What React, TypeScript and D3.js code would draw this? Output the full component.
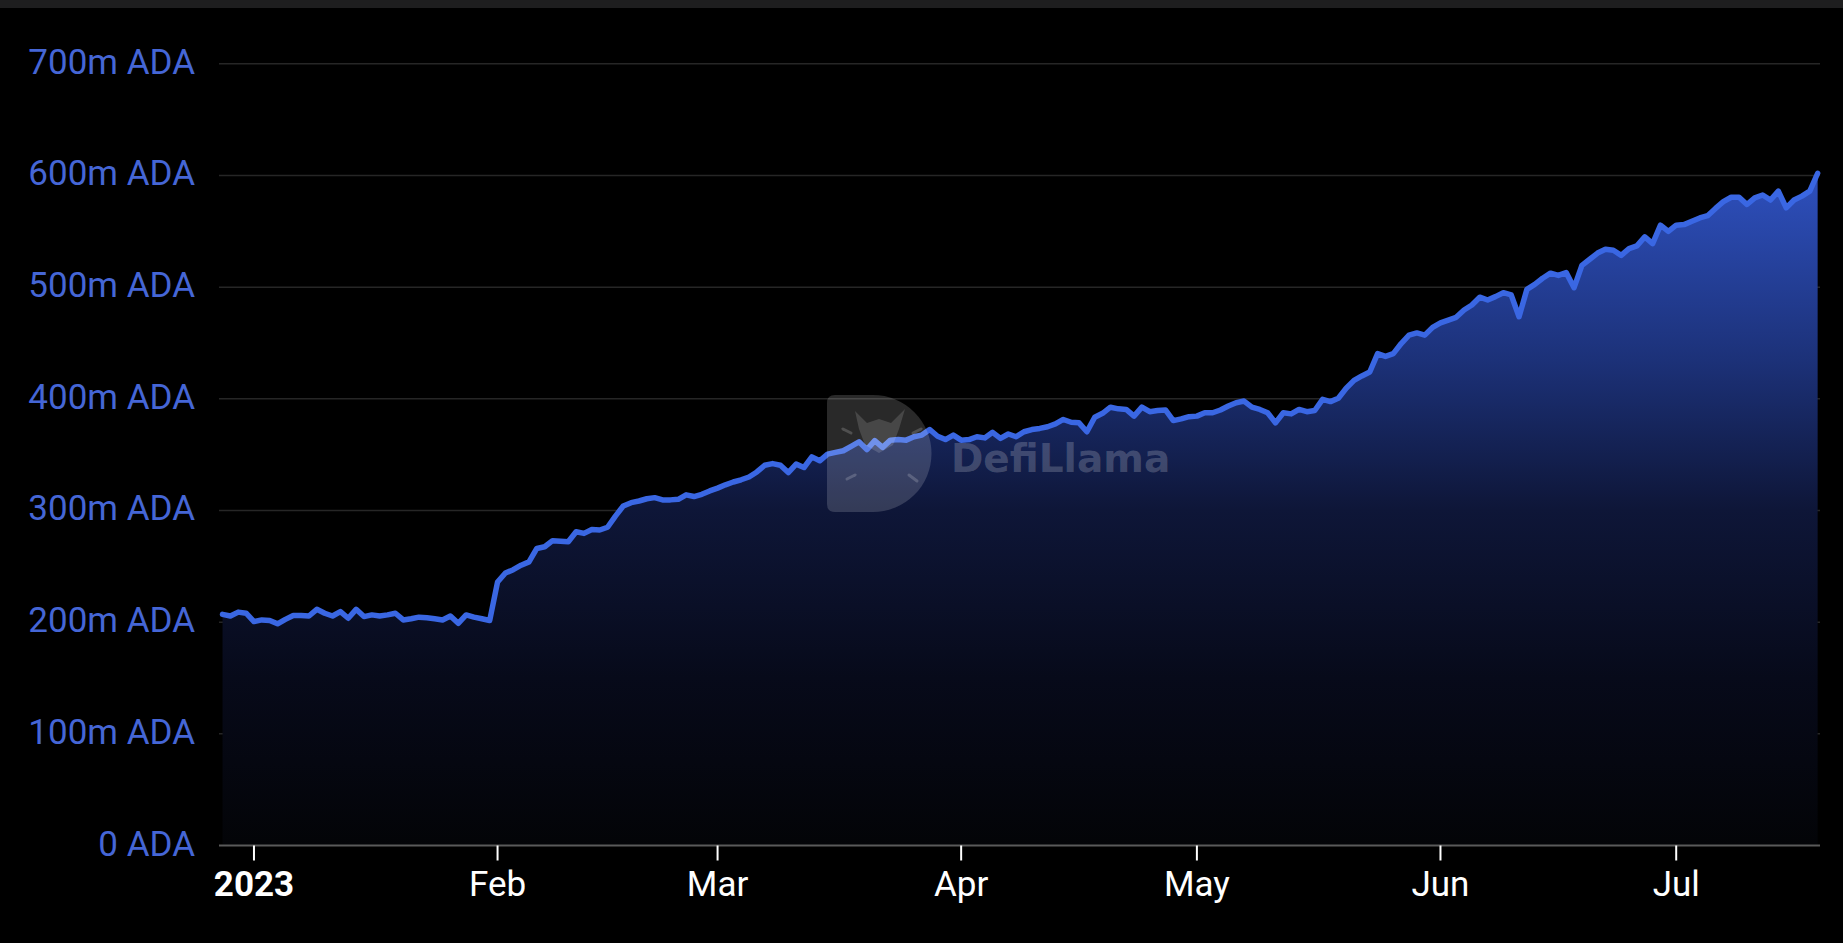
import React from "react";
import * as d3 from "d3";

// ---- data ----
const startDate = "2022-12-28"; // first daily point
const tvlValues: number[] = [
  207, 205.5, 209, 208, 200.5, 202, 201.5, 198.5, 202.5, 206,
  206, 205.5, 211.5, 208, 205.5, 209.5, 203.5, 211.5, 205, 206.5,
  205.5, 206.5, 208, 202, 203, 204.5, 204, 203, 202, 205.5,
  199, 206.5, 204.5, 203, 201.5,
  236, 244, 247, 251, 254, 266, 267.5, 273, 272.5, 272,
  281, 279.5, 283, 282.5, 285, 295, 304, 307, 308.5, 310.5,
  311.5, 309.5, 309.5, 310, 314, 312.5, 314.5, 317.5, 320, 323,
  325.5, 327.5, 330, 334.5, 340.5, 342, 340.5, 334, 341.5, 338.5,
  348, 344.5, 350.5, 352, 353.5, 357.5, 361.5, 354.5, 362.5, 356.5,
  363, 363.5, 363, 366, 367.5, 372.5, 366.5, 363.5, 367.5, 363,
  363.5, 366, 365, 370, 364.5, 368.5, 366, 370.5, 372.5, 373.5,
  375, 377.5, 381.5, 379, 378.5, 370.5, 383.5, 387, 392.5, 391,
  390.5, 384.5, 392.5, 388.5, 389.5, 390, 380.5, 382, 384, 384.5,
  387.5, 387.5, 390, 393.5, 396.5, 398, 392.5, 390.5, 387.5, 378.5,
  387.5, 386.5, 390.5, 388.5, 389.5, 399.5, 397.5, 400.5, 409.5, 416.5,
  420.5, 424, 440.5, 438, 440.5, 449.5, 457, 459, 457, 464,
  468, 470.5, 473, 479.5, 484, 491, 488.5, 491.5, 495, 493,
  473.5, 498, 502.5, 508, 512.5, 510.5, 513, 499.5, 519.5, 525,
  530.5, 534, 533, 528.5, 534.5, 537, 545, 539, 555.5, 550,
  555.5, 556, 559, 562, 564, 570.5, 576.5, 580.5, 580.5, 574,
  580, 582.5, 578, 586, 571, 578, 581.5, 586, 602,
];
const yTickValues = [0, 100, 200, 300, 400, 500, 600, 700];
const yTickLabels = ["0 ADA", "100m ADA", "200m ADA", "300m ADA", "400m ADA", "500m ADA", "600m ADA", "700m ADA"];
const xTickLabels = ["2023", "Feb", "Mar", "Apr", "May", "Jun", "Jul"];

const W = 1843;
const H = 943;

export default function App() {
  const t0 = d3.utcParse("%Y-%m-%d")(startDate) as Date;
  const jan1 = d3.utcParse("%Y-%m-%d")("2023-01-01") as Date;
  const data = tvlValues.map((v, i) => ({ date: d3.utcDay.offset(t0, i), value: v }));

  const HOUR = 3600 * 1000;
  const domainStart = new Date(jan1.getTime() - 4.45 * 24 * HOUR);
  const domainEnd = new Date(jan1.getTime() + 199.3 * 24 * HOUR);

  const x = d3.scaleUtc().domain([domainStart, domainEnd]).range([219, 1820]);
  const y = d3.scaleLinear().domain([0, 700]).range([845.5, 63.8]);

  const xTicks = d3.utcMonth.range(jan1, domainEnd);

  const line = d3
    .line<{ date: Date; value: number }>()
    .x((d) => x(d.date))
    .y((d) => y(d.value))
    .curve(d3.curveLinear);
  const area = d3
    .area<{ date: Date; value: number }>()
    .x((d) => x(d.date))
    .y0(y(0))
    .y1((d) => y(d.value))
    .curve(d3.curveLinear);

  const maxV = d3.max(tvlValues) as number;

  // watermark geometry
  const wmX = 827;
  const wmTop = 395;
  const wmBot = 512;
  const r = (wmBot - wmTop) / 2;
  const dPath = `M${wmX + 8},${wmTop} L${wmX + 46},${wmTop} A${r},${r} 0 0 1 ${wmX + 46},${wmBot} L${wmX + 8},${wmBot} Q${wmX},${wmBot} ${wmX},${wmBot - 8} L${wmX},${wmTop + 8} Q${wmX},${wmTop} ${wmX + 8},${wmTop} Z`;

  return (
    <div style={{ position: "fixed", left: 0, top: 0, width: W, height: H, background: "#000" }}>
      <svg width={W} height={H} style={{ display: "block", fontFamily: "Roboto, 'Noto Sans', sans-serif" }}>
        <defs>
          <linearGradient id="areaGrad" gradientUnits="userSpaceOnUse" x1={0} x2={0} y1={y(maxV)} y2={y(0)}>
            <stop offset="0" stopColor="#2E50BE" />
            <stop offset="0.28" stopColor="#1C3178" />
            <stop offset="0.5" stopColor="#0E1638" />
            <stop offset="0.75" stopColor="#070A1A" />
            <stop offset="1" stopColor="#030407" />
          </linearGradient>
        </defs>
        <rect x={0} y={0} width={W} height={H} fill="#000" />
        <rect x={0} y={0} width={W} height={8} fill="#1e1e1f" />

        {/* grid lines */}
        {yTickValues.map((v) =>
          v === 0 ? null : (
            <line key={"g" + v} x1={219} x2={1820} y1={y(v)} y2={y(v)} stroke="#262626" strokeWidth={1.5} />
          )
        )}

        {/* area + line */}
        <path d={area(data) as string} fill="url(#areaGrad)" />
        <path d={line(data) as string} fill="none" stroke="#3A67E3" strokeWidth={5.5} strokeLinejoin="round" strokeLinecap="round" />

        {/* watermark */}
        <g>
          <path d={dPath} fill="#ffffff" fillOpacity={0.16} />
          <path
            d={`M${wmX + 28},${wmTop + 16} L${wmX + 40},${wmTop + 28} L${wmX + 52},${wmTop + 24} L${wmX + 64},${wmTop + 28} L${wmX + 78},${wmTop + 14} L${wmX + 72},${wmTop + 34} L${wmX + 66},${wmTop + 50} L${wmX + 52},${wmTop + 58} L${wmX + 38},${wmTop + 50} L${wmX + 32},${wmTop + 34} Z`}
            fill="#ffffff"
            fillOpacity={0.14}
          />
          {[
            [wmX + 16, wmTop + 34, wmX + 24, wmTop + 38],
            [wmX + 86, wmTop + 38, wmX + 94, wmTop + 34],
            [wmX + 20, wmTop + 84, wmX + 28, wmTop + 80],
            [wmX + 82, wmTop + 80, wmX + 90, wmTop + 86],
          ].map((s, i) => (
            <line key={"wm" + i} x1={s[0]} y1={s[1]} x2={s[2]} y2={s[3]} stroke="#ffffff" strokeOpacity={0.18} strokeWidth={3} strokeLinecap="round" />
          ))}
          <text x={951} y={472} fontSize={39} fontWeight={700} fill="#ffffff" fillOpacity={0.2} fontFamily="'DejaVu Sans', 'Open Sans', sans-serif">
            DefiLlama
          </text>
        </g>

        {/* x axis */}
        <line x1={219} x2={1820} y1={y(0)} y2={y(0)} stroke="#5a5a5a" strokeWidth={2} />
        {xTicks.map((t, i) => (
          <g key={"xt" + i} transform={`translate(${x(t)},0)`}>
            <line x1={0} x2={0} y1={y(0)} y2={y(0) + 15} stroke="#ffffff" strokeWidth={2} />
            <text
              x={0}
              y={896}
              textAnchor="middle"
              fontSize={35}
              fill="#ffffff"
              fontWeight={i === 0 ? 700 : 400}
            >
              {xTickLabels[i]}
            </text>
          </g>
        ))}

        {/* y axis labels */}
        {yTickValues.map((v, i) => (
          <text key={"yl" + v} x={195} y={y(v) + 10} textAnchor="end" fontSize={35} fill="#4566D6">
            {yTickLabels[i]}
          </text>
        ))}
      </svg>
    </div>
  );
}
